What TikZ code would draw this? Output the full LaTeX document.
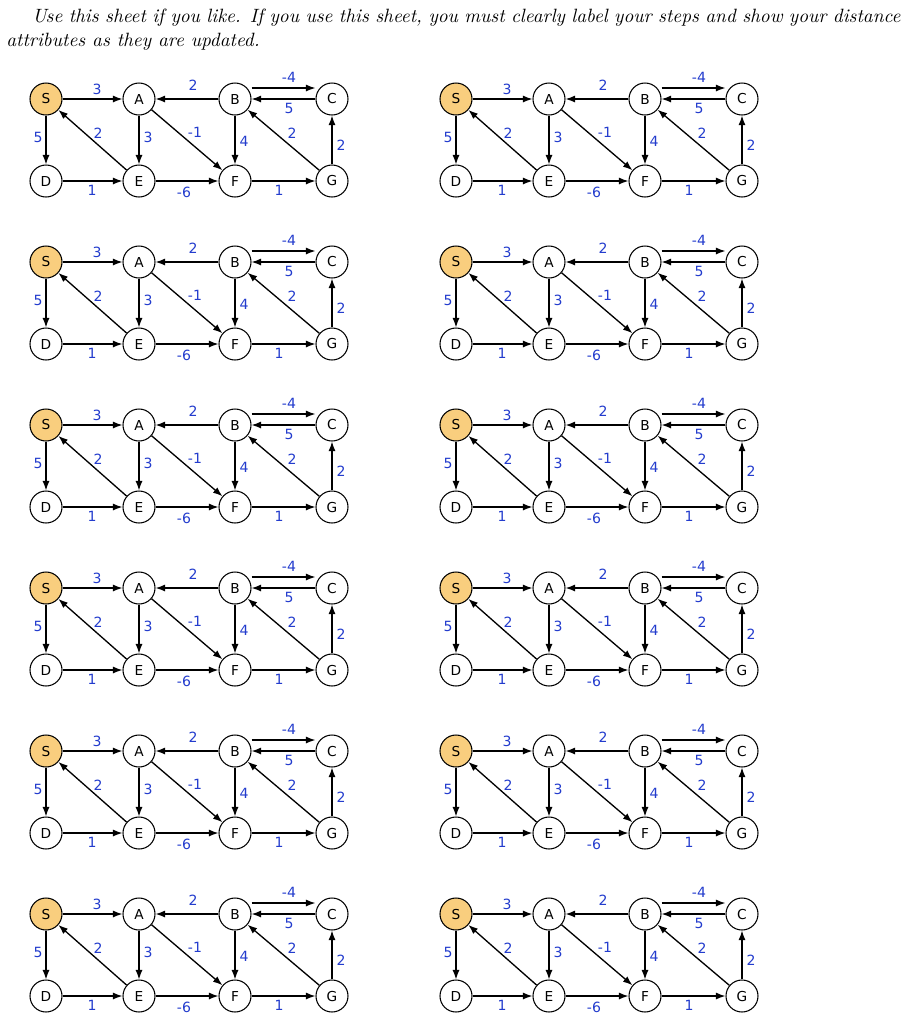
\documentclass[tikz,border=0pt]{standalone}
\usepackage{fontspec}
\newfontfamily\graphfont{DejaVu Sans}
\usetikzlibrary{arrows.meta}
\definecolor{srcfill}{RGB}{249,206,126}
\definecolor{wtblue}{RGB}{35,60,205}
\tikzset{
  vtx/.style={circle, draw, line width=0.6pt, minimum size=6.4mm, inner sep=0pt, font=\graphfont\fontsize{7.8}{8}\selectfont},
  src/.style={vtx, fill=srcfill},
  wt/.style={text=wtblue, inner sep=0pt, font=\graphfont\fontsize{8}{9}\selectfont},
  arc/.style={line width=0.75pt, -{Latex[length=1.9mm,width=1.4mm]}},
}

\begin{document}
\begin{tikzpicture}[x=0.2mm, y=-0.2mm]
\useasboundingbox (0,0) rectangle (908,1024);
\node[anchor=north west, inner sep=0pt, text width=178.8mm, align=justify, font=\fontsize{10.95}{13.6}\selectfont\itshape] (note) at (6,9)
  {\hspace*{5.2mm}Use this sheet if you like. If you use this sheet, you must clearly label your steps and show your distance attributes as they are updated.};

\foreach \gx in {46,456} {
\foreach \gy in {99,262,425,588,751,914} {
\begin{scope}[shift={(\gx,\gy)}]
% vertices
\node[src] (S) at (0,0) {S};
\node[vtx] (A) at (93,0) {A};
\node[vtx] (B) at (189,0) {B};
\node[vtx] (C) at (286,0) {C};
\node[vtx] (D) at (0,82) {D};
\node[vtx] (E) at (93,82) {E};
\node[vtx] (F) at (189,82) {F};
\node[vtx] (G) at (286,82) {G};

% edges
\draw[arc] (S) -- (A);
\draw[arc] (B) -- (A);
\draw[arc] ([yshift=2.2mm]B.east) -- ([yshift=2.2mm]C.west);
\draw[arc] (C) -- (B);
\draw[arc] (S) -- (D);
\draw[arc] (E) -- (S);
\draw[arc] (A) -- (E);
\draw[arc] (A) -- (F);
\draw[arc] (B) -- (F);
\draw[arc] (G) -- (B);
\draw[arc] (G) -- (C);
\draw[arc] (D) -- (E);
\draw[arc] (E) -- (F);
\draw[arc] (F) -- (G);

% weights
\node[wt] (wSA) at (51,-10) {3};
\node[wt] (wBA) at (147,-14) {2};
\node[wt] (wBC) at (243,-22) {-4};
\node[wt] (wCB) at (243,9) {5};
\node[wt] (wSD) at (-8,38) {5};
\node[wt] (wES) at (52,34) {2};
\node[wt] (wAE) at (102,38) {3};
\node[wt] (wAF) at (149,33) {-1};
\node[wt] (wBF) at (198,42) {4};
\node[wt] (wGB) at (246,34) {2};
\node[wt] (wGC) at (295,46) {2};
\node[wt] (wDE) at (46,91) {1};
\node[wt] (wEF) at (138,93) {-6};
\node[wt] (wFG) at (233,91) {1};
\end{scope}
}}
\end{tikzpicture}
\end{document}
